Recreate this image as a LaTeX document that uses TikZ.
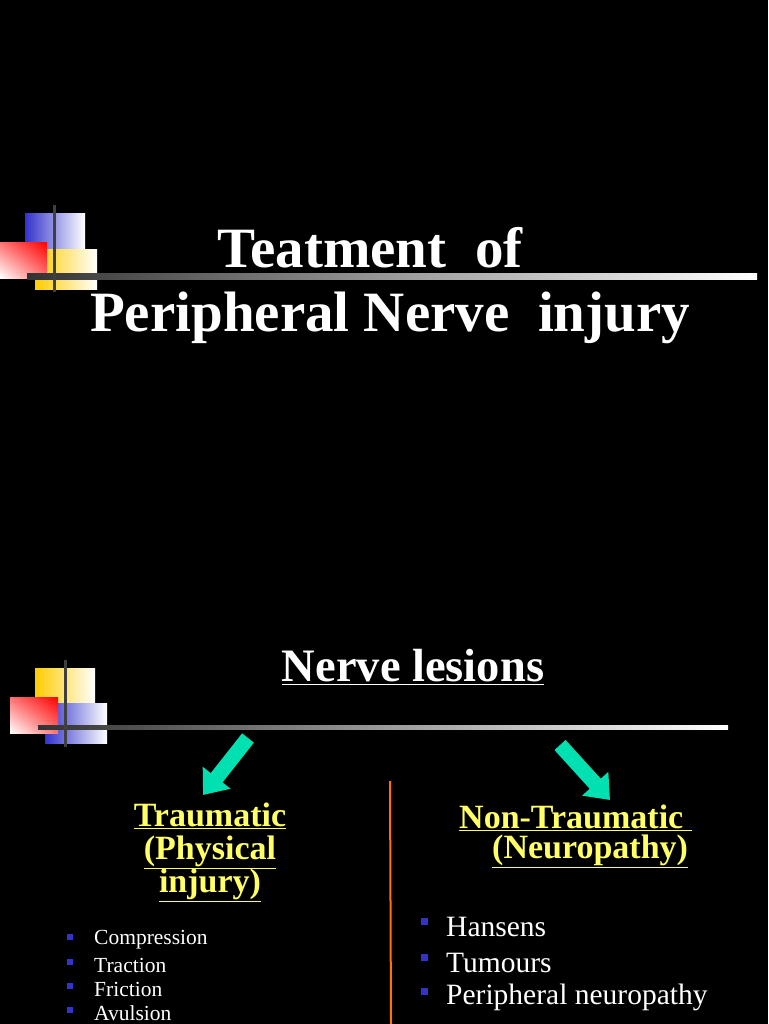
\documentclass[tikz,border=0pt]{standalone}
\usepackage{fontspec}
\setmainfont{Liberation Serif}
\usetikzlibrary{arrows.meta,shadings}
\definecolor{yel}{HTML}{FFFF66}
\definecolor{tq}{HTML}{00E0B0}
\definecolor{bl}{HTML}{3333CC}
\definecolor{gold}{HTML}{FFCC00}
\begin{document}
\begin{tikzpicture}[x=1pt,y=-1pt,
  ttl/.style={text=white,font=\bfseries\fontsize{57}{60}\selectfont,inner sep=0},
  sub/.style={text=yel,font=\bfseries\fontsize{34}{33}\selectfont,inner sep=0,align=center},
  sb/.style={text=white,font=\fontsize{21.5}{23}\selectfont,anchor=west,inner sep=0},
  bb/.style={text=white,font=\fontsize{29.5}{31}\selectfont,anchor=west,inner sep=0},
  bul/.style={fill=bl,minimum size=6pt,inner sep=0},
  bigarrow/.style={tq,line width=15pt,-{Triangle[width=34pt,length=22pt]}},
  vbar/.style={line width=3pt,draw=black!75},
  redsh/.style={upper right=red,lower left=white,upper left=red!55!white,lower right=red!55!white}]
\fill[black] (0,0) rectangle (768,1024);
\useasboundingbox (0,0) rectangle (768,1024);
% top decoration
\shade[left color=bl,middle color=bl,right color=white] (25,214) rectangle (85,249);
\shade[left color=gold,middle color=gold,right color=white] (35,249) rectangle (97,289);
\shade[redsh] (0,242) rectangle (47,278);
\shade[left color=black!80,right color=white] (27,273) rectangle (757,279);
\draw[vbar] (54,205) coordinate (tv1) -- (54,292) coordinate (tv2);
% bottom decoration
\shade[left color=gold,middle color=gold,right color=white] (35,668) rectangle (95,703);
\shade[left color=bl,middle color=bl,right color=white] (45,703) rectangle (107,743);
\shade[redsh] (10,697) rectangle (58,733);
\shade[left color=black!80,right color=white] (38,725) rectangle (728,729);
\draw[vbar] (65,660) coordinate (bv1) -- (65,747) coordinate (bv2);
% title
\node[ttl] (t1) at (370,248) {Teatment\ \ of};
\node[ttl] (t2) at (390,318) {Peripheral Nerve\ \ injury};
\node[ttl,font=\bfseries\fontsize{46.5}{50}\selectfont] (nl) at (413,667) {\underline{Nerve lesions}};
% arrows
\coordinate (a1) at (248,738); \coordinate (a2) at (203,795);
\coordinate (b1) at (560,745); \coordinate (b2) at (610,800);
\draw[bigarrow] (a1) -- (a2);
\draw[bigarrow] (b1) -- (b2);
% divider
\draw[draw=orange!90!red,line width=2pt] (390,781) coordinate (d1) -- (391,1024) coordinate (d2);
% subheadings
\node[sub] (tr) at (210,852) {\underline{Traumatic}\\ \underline{(Physical}\\ \underline{injury)}};
\node[sub,anchor=west] (nt) at (459,818) {\underline{Non-Traumatic\ }};
\node[sub,anchor=west] (np) at (492,851) {\underline{(Neuropathy)}};
% left bullets
\foreach \y/\t [count=\i] in {940/Compression,965/Traction,989/Friction,1013/Avulsion}{
  \node[bul] (lb\i) at (70,\y-3) {};
  \node[sb] (lt\i) at (94,\y) {\t};
}
\foreach \y/\t [count=\i] in {927/Hansens,963/Tumours,997/Peripheral neuropathy}{
  \node[bul,minimum size=7pt] (rb\i) at (424,\y-6) {};
  \node[bb] (rt\i) at (446,\y) {\t};
}
\end{tikzpicture}
\end{document}
